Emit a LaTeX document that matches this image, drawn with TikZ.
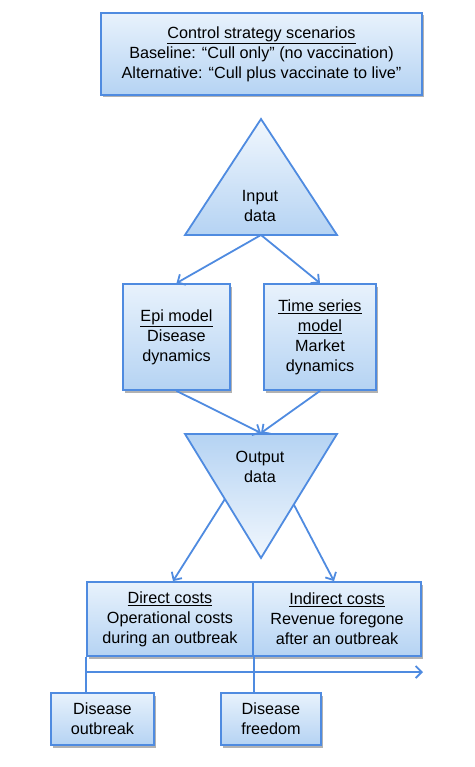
\documentclass[tikz,border=0pt]{standalone}
\usepackage{fontspec}
\setmainfont{Liberation Sans}
\usetikzlibrary{arrows.meta,shadows,calc}
\definecolor{bord}{HTML}{4F8BE0}
\definecolor{ftop}{HTML}{E8F2FC}
\definecolor{fbot}{HTML}{B5D3F3}
\begin{document}
\begin{tikzpicture}[x=1pt,y=-1pt,
  font=\fontsize{16.2}{20}\selectfont,
  box/.style={draw=bord, line width=1.8pt, top color=ftop, bottom color=fbot,
    align=center, inner sep=0pt,
    drop shadow={shadow xshift=2pt,shadow yshift=-2.5pt,opacity=.3,fill=black}},
  tri/.style={draw=bord, line width=1.8pt, line join=miter},
  conn/.style={draw=bord, line width=1.8pt},
  arr/.style={conn, -{Straight Barb[length=6pt,width=12pt,line width=1.8pt]}},
  lbl/.style={align=center, inner sep=0pt}]
\useasboundingbox (0,0) rectangle (474,767);

% top box
\node[box, minimum width=321pt, minimum height=82pt] (scen) at (261.5,54)
  {\underline{Control strategy scenarios}\\Baseline: “Cull only” (no vaccination)\\Alternative: “Cull plus vaccinate to live”};

% input triangle
\coordinate (ia) at (261,119);
\coordinate (ibl) at (185,235);
\coordinate (ibr) at (337,235);
\coordinate (inb) at (261,235);
\path[tri, top color=ftop!60!white, bottom color=fbot] (ia) -- (ibr) -- (ibl) -- cycle;
\node[lbl] (input) at (260,206) {Input\\data};

% model boxes
\node[box, minimum width=107pt, minimum height=106pt] (epi) at (176.5,337)
  {\underline{Epi model}\\Disease\\dynamics};
\node[box, minimum width=112pt, minimum height=106pt] (ts) at (320,337)
  {\underline{Time series}\\\underline{model}\\Market\\dynamics};

\draw[arr] (inb) -- (epi.north);
\draw[arr] (inb) -- (ts.north);

% cost boxes
\node[box, minimum width=166pt, minimum height=74pt] (direct) at (170,619)
  {\underline{Direct costs}\\Operational costs\\during an outbreak};
\node[box, minimum width=168pt, minimum height=74pt] (indirect) at (337,619)
  {\underline{Indirect costs}\\Revenue foregone\\after an outbreak};

% output arrows (behind triangle)
\coordinate (oc) at (261,442);
\draw[arr] (oc) -- ([xshift=3pt]direct.north);
\draw[arr] (oc) -- ([xshift=-3pt]indirect.north);

% output triangle
\coordinate (otl) at (185,434);
\coordinate (otr) at (337,434);
\coordinate (oap) at (261,558);
\coordinate (ot) at (261,433);
\path[tri, top color=fbot, bottom color=ftop!60!white] (otl) -- (otr) -- (oap) -- cycle;
\node[lbl] (output) at (260,467) {Output\\data};

\draw[arr] (epi.south) -- (ot);
\draw[arr] (ts.south) -- (ot);

% bottom boxes
\node[box, minimum width=103pt, minimum height=52pt] (outbreak) at (102.5,719)
  {Disease\\outbreak};
\node[box, minimum width=100pt, minimum height=52pt] (freedom) at (271,719)
  {Disease\\freedom};

% timeline
\draw[conn] (direct.south west) -- (direct.south west |- outbreak.north);
\draw[conn] (direct.south east) -- (direct.south east |- freedom.north);
\coordinate (tl) at (87,672);
\coordinate (tr) at (423,672);
\draw[arr] (tl) -- (tr);
\end{tikzpicture}
\end{document}
